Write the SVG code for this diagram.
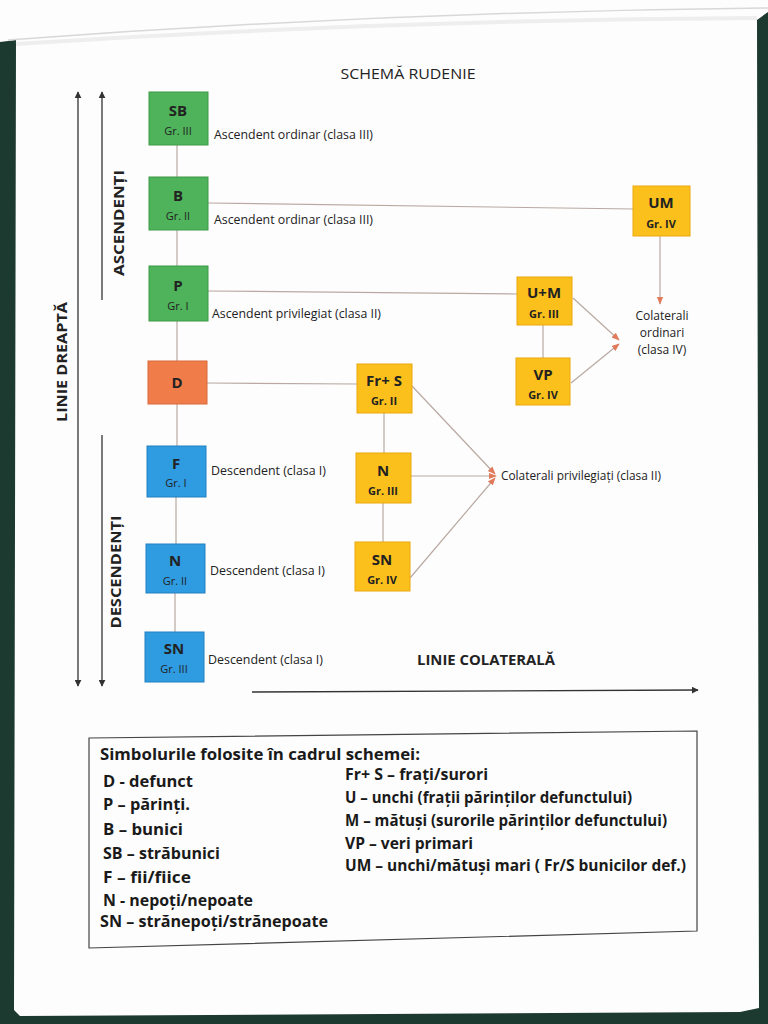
<svg xmlns="http://www.w3.org/2000/svg" width="768" height="1024" viewBox="0 0 768 1024">
<defs>
<style>
.t{font-family:"Open Sans","Liberation Sans",sans-serif;fill:#222}
.b{font-weight:bold}
.nl{font-family:"Open Sans","Liberation Sans",sans-serif;font-weight:bold;font-size:15px;fill:#222;text-anchor:middle}
.gr{font-family:"Open Sans","Liberation Sans",sans-serif;font-size:11px;fill:#222;text-anchor:middle}
.grb{font-family:"Open Sans","Liberation Sans",sans-serif;font-size:11px;font-weight:bold;fill:#222;text-anchor:middle}
.lbl{font-family:"Open Sans","Liberation Sans",sans-serif;font-size:12px;fill:#222}
.lg{font-family:"Open Sans","Liberation Sans",sans-serif;font-size:16px;font-weight:bold;fill:#1a1a1a}
.green{fill:#4fb35b;stroke:#3d9a48;stroke-width:1}
.blue{fill:#2f9be0;stroke:#2580c0;stroke-width:1}
.orange{fill:#f07c4a;stroke:#d8683a;stroke-width:1}
.yellow{fill:#fcc01c;stroke:#eaa80e;stroke-width:1}
.ln{stroke:#b9a9a2;stroke-width:1.2;fill:none}
.ar{stroke:#333;stroke-width:1.3;fill:none}
</style>
<marker id="ah" viewBox="0 0 10 10" refX="9" refY="5" markerWidth="7" markerHeight="7" orient="auto-start-reverse" markerUnits="userSpaceOnUse">
<path d="M0 0 L10 5 L0 10 Z" fill="#333"/>
</marker>
<marker id="oh" viewBox="0 0 10 10" refX="9" refY="5" markerWidth="8" markerHeight="8" orient="auto" markerUnits="userSpaceOnUse">
<path d="M0 1 L10 5 L0 9 Z" fill="#e07a5a"/>
</marker>
</defs>
<rect x="0" y="0" width="768" height="1024" fill="#1d3a31"/>
<path d="M0 0 H768 V12 L757 20 L759 1008 L740 1012 L20 1016 L14 1010 L16 40 L0 42 Z" fill="#fdfdfd"/>
<path d="M8 40 Q380 12 768 8" fill="none" stroke="#d8d8d8" stroke-width="1.5"/>
<path d="M16 44 Q380 20 757 18" fill="none" stroke="#eeeeee" stroke-width="4"/>

<text class="t" x="408" y="79" font-size="15" text-anchor="middle" textLength="135" lengthAdjust="spacingAndGlyphs">SCHEMĂ RUDENIE</text>

<g id="axes">
<line class="ar" x1="78" y1="92" x2="78" y2="686" marker-start="url(#ah)" marker-end="url(#ah)"/>
<line class="ar" x1="102" y1="92" x2="102" y2="300" marker-start="url(#ah)"/>
<line class="ar" x1="102" y1="435" x2="102" y2="686" marker-end="url(#ah)"/>
<line class="ar" x1="252" y1="692" x2="698" y2="690" marker-end="url(#ah)"/>
<text class="t b" font-size="14" text-anchor="middle" transform="translate(67 362) rotate(-90)" textLength="120" lengthAdjust="spacingAndGlyphs">LINIE DREAPTĂ</text>
<text class="t b" font-size="14" text-anchor="middle" transform="translate(124 223) rotate(-90)" textLength="106" lengthAdjust="spacingAndGlyphs">ASCENDENȚI</text>
<text class="t b" font-size="14" text-anchor="middle" transform="translate(121 572) rotate(-90)" textLength="113" lengthAdjust="spacingAndGlyphs">DESCENDENȚI</text>
<text class="t b" x="417" y="665" font-size="14" textLength="138" lengthAdjust="spacingAndGlyphs">LINIE COLATERALĂ</text>
</g>

<g id="connectors">
<line class="ln" x1="177" y1="145" x2="177" y2="177"/>
<line class="ln" x1="177" y1="230" x2="177" y2="266"/>
<line class="ln" x1="177" y1="321" x2="177" y2="361"/>
<line class="ln" x1="177" y1="404" x2="177" y2="446"/>
<line class="ln" x1="176" y1="497" x2="176" y2="544"/>
<line class="ln" x1="175" y1="593" x2="175" y2="632"/>
<line class="ln" x1="208" y1="203" x2="633" y2="209"/>
<line class="ln" x1="208" y1="291" x2="517" y2="294"/>
<line class="ln" x1="207" y1="383" x2="357" y2="384"/>
<line class="ln" x1="543" y1="325" x2="543" y2="358"/>
<line class="ln" x1="384" y1="413" x2="384" y2="453"/>
<line class="ln" x1="383" y1="503" x2="383" y2="542"/>
<line class="ln" x1="412" y1="386" x2="495" y2="474" marker-end="url(#oh)"/>
<line class="ln" x1="411" y1="476" x2="496" y2="476" marker-end="url(#oh)"/>
<line class="ln" x1="410" y1="578" x2="495" y2="478" marker-end="url(#oh)"/>
<line class="ln" x1="660" y1="236" x2="660" y2="304" marker-end="url(#oh)"/>
<line class="ln" x1="573" y1="298" x2="619" y2="340" marker-end="url(#oh)"/>
<line class="ln" x1="571" y1="383" x2="619" y2="344" marker-end="url(#oh)"/>
</g>

<g id="SB"><rect class="green" x="149" y="92" width="59" height="53"/><text class="nl" x="178" y="116">SB</text><text class="gr" x="178" y="135">Gr. III</text><text class="lbl" x="214" y="139" textLength="159" lengthAdjust="spacingAndGlyphs">Ascendent ordinar (clasa III)</text></g>
<g id="B"><rect class="green" x="149" y="177" width="59" height="53"/><text class="nl" x="178" y="201">B</text><text class="gr" x="178" y="220">Gr. II</text><text class="lbl" x="214" y="224" textLength="159" lengthAdjust="spacingAndGlyphs">Ascendent ordinar (clasa III)</text></g>
<g id="P"><rect class="green" x="149" y="266" width="59" height="55"/><text class="nl" x="178" y="291">P</text><text class="gr" x="178" y="310">Gr. I</text><text class="lbl" x="212" y="318" textLength="169" lengthAdjust="spacingAndGlyphs">Ascendent privilegiat (clasa II)</text></g>
<g id="D"><rect class="orange" x="148" y="361" width="59" height="43"/><text class="nl" x="177" y="388">D</text></g>
<g id="F"><rect class="blue" x="147" y="446" width="59" height="51"/><text class="nl" x="176" y="469">F</text><text class="gr" x="176" y="487">Gr. I</text><text class="lbl" x="211" y="475" textLength="115" lengthAdjust="spacingAndGlyphs">Descendent (clasa I)</text></g>
<g id="N"><rect class="blue" x="146" y="544" width="59" height="49"/><text class="nl" x="175" y="566">N</text><text class="gr" x="175" y="585">Gr. II</text><text class="lbl" x="210" y="575" textLength="115" lengthAdjust="spacingAndGlyphs">Descendent (clasa I)</text></g>
<g id="SN"><rect class="blue" x="145" y="632" width="59" height="50"/><text class="nl" x="174" y="654">SN</text><text class="gr" x="174" y="673">Gr. III</text><text class="lbl" x="208" y="664" textLength="115" lengthAdjust="spacingAndGlyphs">Descendent (clasa I)</text></g>

<g id="UM"><rect class="yellow" x="633" y="186" width="57" height="50"/><text class="nl" x="661" y="208">UM</text><text class="grb" x="661" y="228">Gr. IV</text></g>
<g id="UplusM"><rect class="yellow" x="517" y="277" width="55" height="48"/><text class="nl" x="544" y="298">U+M</text><text class="grb" x="544" y="318">Gr. III</text></g>
<g id="VP"><rect class="yellow" x="516" y="358" width="54" height="47"/><text class="nl" x="543" y="380">VP</text><text class="grb" x="543" y="399">Gr. IV</text></g>
<g id="FrS"><rect class="yellow" x="357" y="364" width="55" height="49"/><text class="nl" x="384" y="386">Fr+ S</text><text class="grb" x="384" y="405">Gr. II</text></g>
<g id="N2"><rect class="yellow" x="356" y="453" width="55" height="50"/><text class="nl" x="383" y="476">N</text><text class="grb" x="383" y="495">Gr. III</text></g>
<g id="SN2"><rect class="yellow" x="355" y="542" width="55" height="49"/><text class="nl" x="382" y="565">SN</text><text class="grb" x="382" y="584">Gr. IV</text></g>

<g id="colaterali-ordinari"><text class="lbl" text-anchor="middle"><tspan x="662" y="320">Colaterali</tspan><tspan x="662" y="337">ordinari</tspan><tspan x="662" y="354">(clasa IV)</tspan></text></g>
<g id="colaterali-privilegiati"><text class="lbl" x="501" y="480" textLength="160" lengthAdjust="spacingAndGlyphs">Colaterali privilegiați (clasa II)</text></g>

<g id="legend">
<path d="M89 738 L697 731 L697 931 L89 948 Z" fill="none" stroke="#444" stroke-width="1.2"/>
<text class="lg" x="100" y="760" textLength="320" lengthAdjust="spacingAndGlyphs">Simbolurile folosite în cadrul schemei:</text>
<text class="lg" x="103" y="787" textLength="90" lengthAdjust="spacingAndGlyphs">D - defunct</text>
<text class="lg" x="103" y="810" textLength="87" lengthAdjust="spacingAndGlyphs">P – părinți.</text>
<text class="lg" x="103" y="835" textLength="80" lengthAdjust="spacingAndGlyphs">B – bunici</text>
<text class="lg" x="103" y="859" textLength="117" lengthAdjust="spacingAndGlyphs">SB – străbunici</text>
<text class="lg" x="103" y="883" textLength="88" lengthAdjust="spacingAndGlyphs">F – fii/fiice</text>
<text class="lg" x="103" y="906" textLength="150" lengthAdjust="spacingAndGlyphs">N -  nepoți/nepoate</text>
<text class="lg" x="100" y="927" textLength="228" lengthAdjust="spacingAndGlyphs">SN – strănepoți/strănepoate</text>
<text class="lg" x="345" y="780" textLength="143" lengthAdjust="spacingAndGlyphs">Fr+ S – frați/surori</text>
<text class="lg" x="345" y="803" textLength="287" lengthAdjust="spacingAndGlyphs">U – unchi (frații părinților defunctului)</text>
<text class="lg" x="345" y="826" textLength="322" lengthAdjust="spacingAndGlyphs">M – mătuși (surorile părinților defunctului)</text>
<text class="lg" x="345" y="849" textLength="128" lengthAdjust="spacingAndGlyphs">VP – veri primari</text>
<text class="lg" x="345" y="871" textLength="341" lengthAdjust="spacingAndGlyphs">UM – unchi/mătuși mari ( Fr/S bunicilor def.)</text>
</g>
</svg>
